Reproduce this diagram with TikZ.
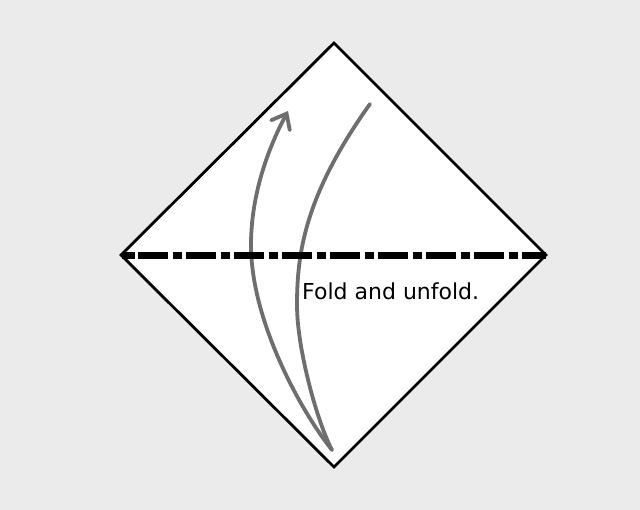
\documentclass[tikz,border=0pt]{standalone}
\usepackage{fontspec}
\setsansfont{DejaVu Sans}
\usetikzlibrary{arrows.meta}
\definecolor{bggray}{HTML}{EBEBEB}
\definecolor{arrowgray}{HTML}{6E6E6E}
\tikzset{
  paper/.style={fill=white, draw=black, line width=2.8pt, line join=miter},
  foldline/.style={line width=7pt, black, dash pattern=on 30pt off 4.5pt on 9pt off 4.5pt},
  foldpiece/.style={line width=7pt, black},
  movearrow/.style={arrowgray, line width=3.8pt, line cap=round},
  label/.style={font=\sffamily\fontsize{22}{26}\selectfont, anchor=base west, inner sep=0pt}
}
\begin{document}
\begin{tikzpicture}[x=1pt,y=-1pt]
\fill[bggray] (0,0) rectangle (640,510);
\useasboundingbox (0,0) rectangle (640,510);
\coordinate (T) at (334,43);
\coordinate (L) at (121,255);
\coordinate (R) at (546,255);
\coordinate (B) at (334,467);
\draw[paper] (T) -- (R) -- (B) -- (L) -- cycle;
% curves
\coordinate (S) at (332,450);
\coordinate (A1) at (251,245);
\coordinate (A2) at (288,111);
\coordinate (C1) at (297,305);
\coordinate (C2) at (370,104);
\draw[movearrow, -{Straight Barb[length=13pt,width=21pt,line cap=round]}]
  (S) .. controls (300,410) and (251,320) .. (A1)
      .. controls (251,205) and (262,160) .. (A2);
\draw[movearrow]
  (S) .. controls (318,424) and (297,350) .. (C1)
      .. controls (297,255) and (304,196) .. (C2);
% fold line
\coordinate (F0) at (122,256);
\coordinate (F1) at (135,256);
\coordinate (F2) at (138,256);
\coordinate (F3) at (546,256);
\draw[foldpiece] (F0) -- (F1);
\draw[foldline] (F2) -- (F3);
\node[label] (txt) at (302,300) {Fold and unfold.};
\end{tikzpicture}
\end{document}
